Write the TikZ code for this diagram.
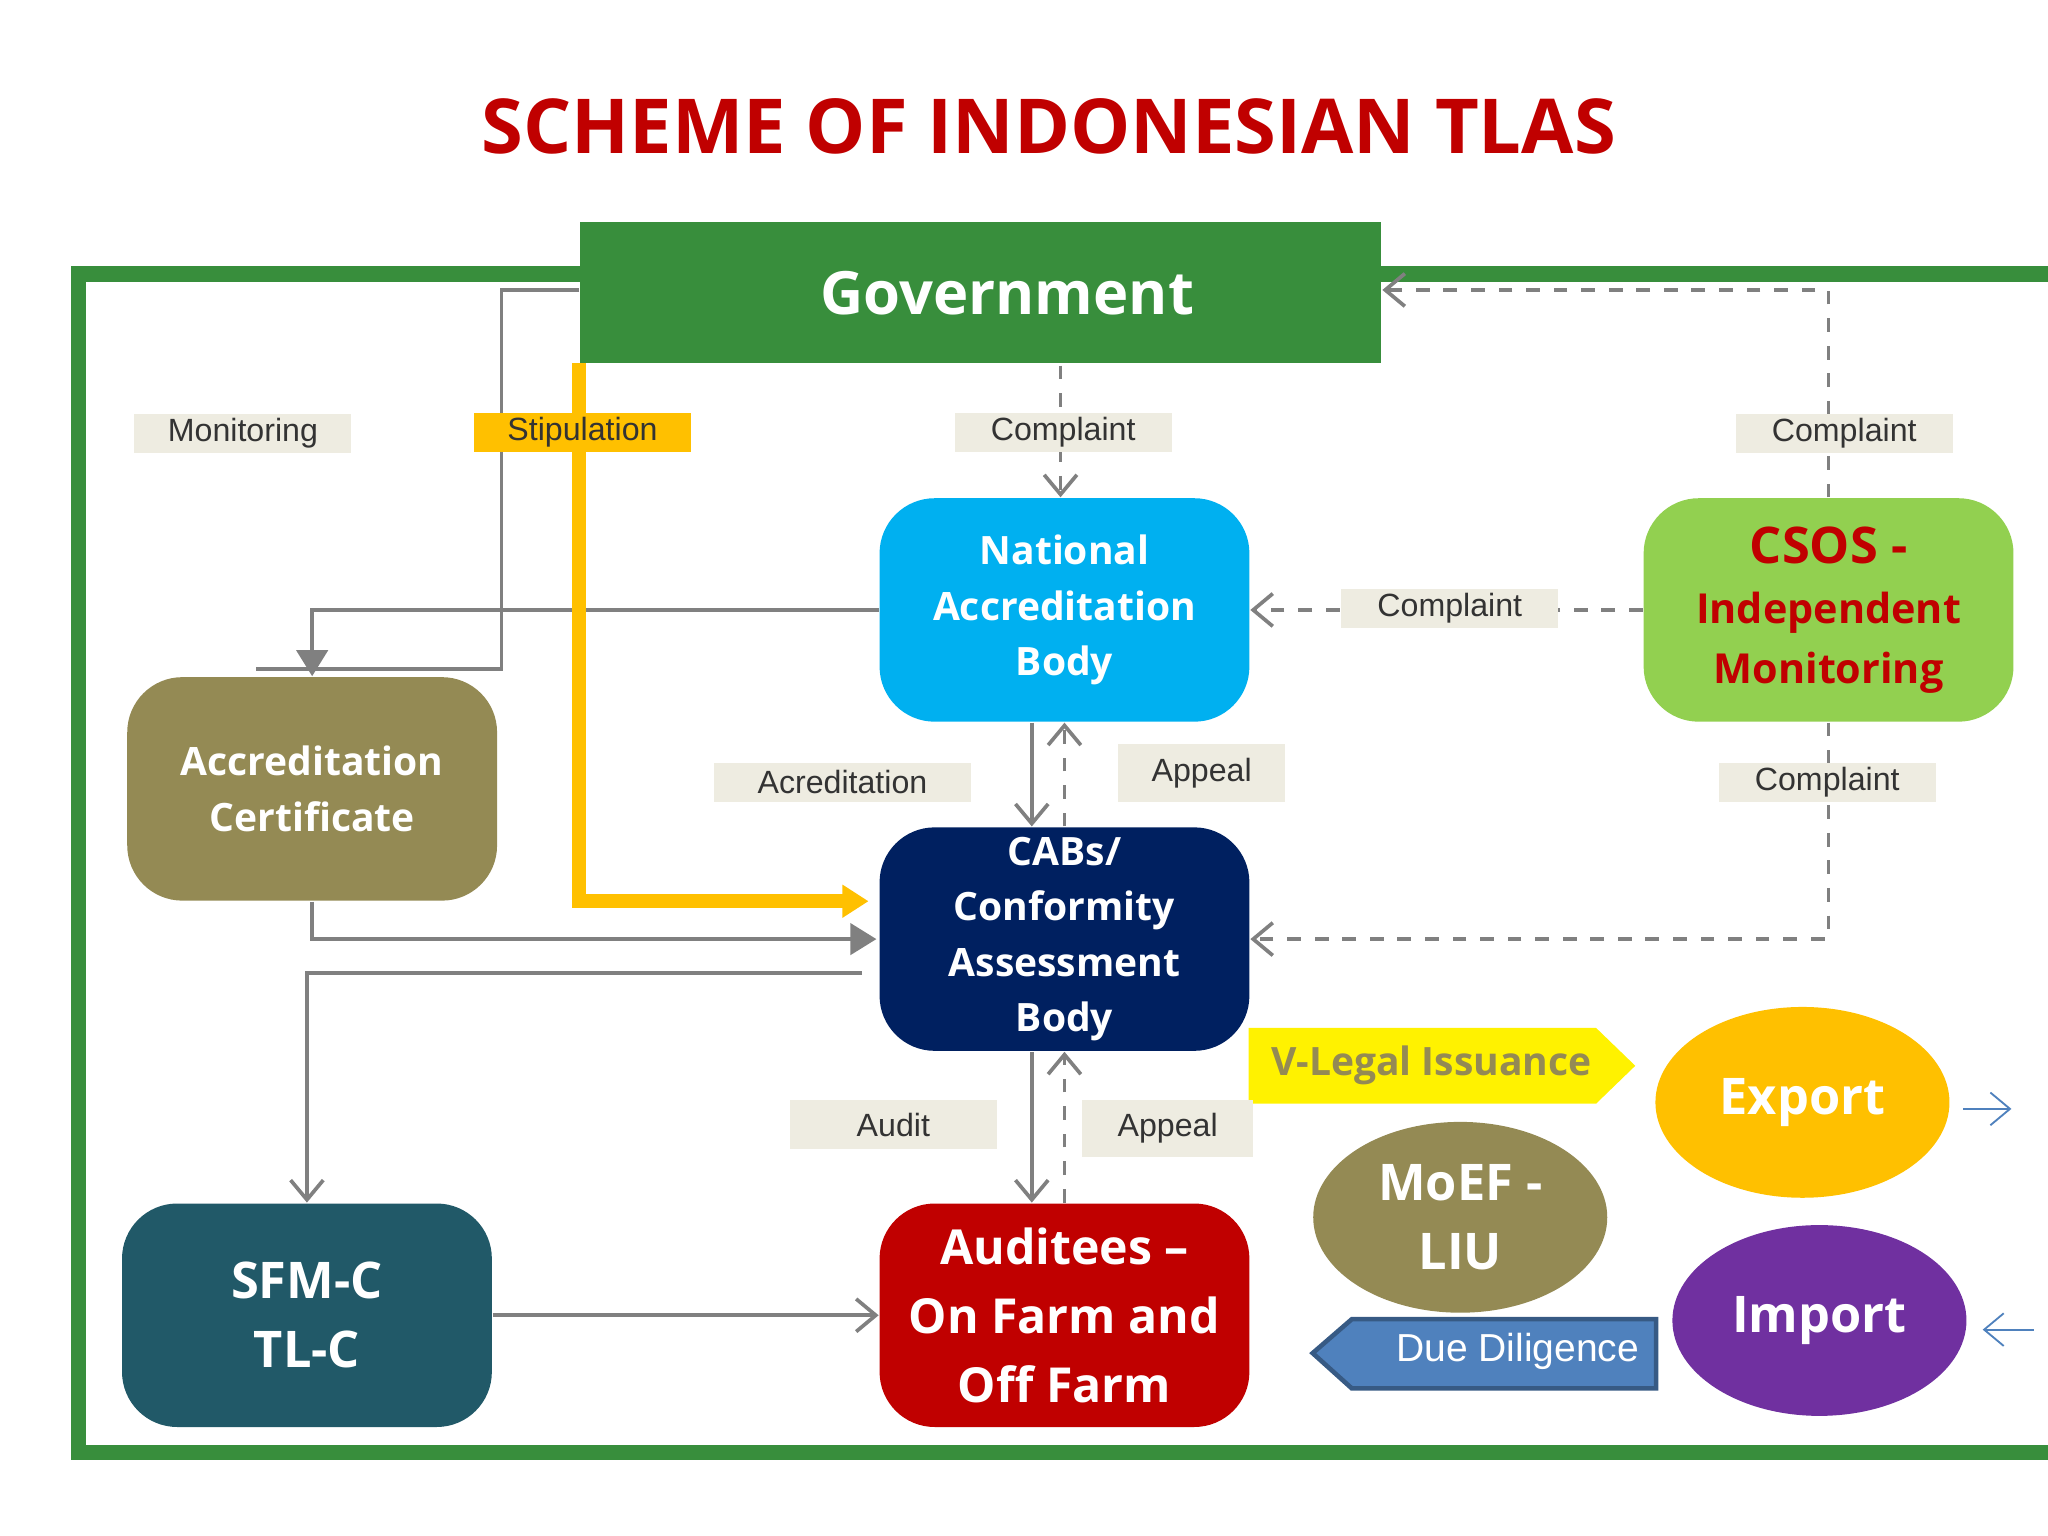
\documentclass[tikz,border=0pt]{standalone}
\usepackage{fontspec}
\setmainfont{Open Sans}
\newfontfamily\labelfont{Liberation Sans}
\usetikzlibrary{arrows.meta,positioning,shapes.geometric}
\definecolor{govgreen}{HTML}{388E3C}
\definecolor{nabblue}{HTML}{00B0F0}
\definecolor{csosgreen}{HTML}{92D050}
\definecolor{olive}{HTML}{948A54}
\definecolor{cabnavy}{HTML}{002060}
\definecolor{sfmteal}{HTML}{215968}
\definecolor{darkred}{HTML}{C00000}
\definecolor{amber}{HTML}{FFC000}
\definecolor{purple}{HTML}{7030A0}
\definecolor{ddblue}{HTML}{4F81BD}
\definecolor{tagbg}{HTML}{EEECE1}
\tikzset{%
    >={Latex[width=2mm,length=2mm]},
    box/.style = {
        rectangle, rounded corners=12pt, minimum width=2.83cm,
        minimum height=1.71cm, text centered, align=center, inner sep=1pt,
        text=white, font=\bfseries\fontsize{8.5}{12}\selectfont
    },
    blob/.style = {
        ellipse, minimum width=2.25cm, minimum height=1.46cm, inner sep=0pt,
        text=white, font=\bfseries\fontsize{11}{14}\selectfont, align=center
    },
    tag/.style = {
        fill=tagbg, text=black!80, font=\labelfont\fontsize{7}{8}\selectfont,
        minimum width=1.66cm, minimum height=0.3cm, inner sep=1pt
    },
    link/.style = {draw=gray, line width=0.8pt},
    dlink/.style = {link, dashed},
    open/.style = {-{Straight Barb[length=1.5mm,width=2.5mm]}},
    shut/.style = {-{Triangle[length=2mm,width=2.4mm]}},
}
\begin{document}
\begin{tikzpicture}[x=0.01cm, y=-0.01cm]
    \useasboundingbox (0,0) rectangle (1568,1176);
    % Frame and title
    \draw[govgreen, line width=0.12cm] (60,210) rectangle (1600,1112);
    \node (title) at (803,97) [text=darkred, font=\bfseries\fontsize{16.5}{20}\selectfont]
        {SCHEME OF INDONESIAN TLAS};

    % Nodes position
    \node (gov)   at (751,224)  [rectangle, fill=govgreen, minimum width=6.13cm,
                                 minimum height=1.08cm, text=white, text depth=0pt,
                                 font=\bfseries\fontsize{13}{16}\selectfont]
                                {\hspace{0.4cm}Government};
    \node (nab)   at (815,467)  [box, fill=nabblue] {National\\Accreditation\\Body};
    \node (csos)  at (1400,467) [box, fill=csosgreen, text=darkred,
                                 font=\bfseries\fontsize{9}{13}\selectfont]
                                {{\fontsize{11}{13}\selectfont CSOS -}\\Independent\\Monitoring};
    \node (cert)  at (239,604)  [box, fill=olive] {Accreditation\\Certificate};
    \node (cab)   at (815,719)  [box, fill=cabnavy] {CABs/\\Conformity\\Assessment\\Body};
    \node (sfm)   at (235,1007) [box, fill=sfmteal, font=\bfseries\fontsize{11}{15}\selectfont]
                                {SFM-C\\TL-C};
    \node (audit) at (815,1007) [box, fill=darkred, font=\bfseries\fontsize{10.5}{15}\selectfont]
                                {Auditees --\\On Farm and\\Off Farm};
    \node (export) at (1380,844) [blob, fill=amber] {Export};
    \node (import) at (1393,1011) [blob, fill=purple] {Import};
    \node (moef)  at (1118,932) [blob, fill=olive, font=\bfseries\fontsize{11}{15}\selectfont]
                                {MoEF -\\LIU};

    % Banner arrows
    \fill[yellow] (956,787) -- (1222,787) -- (1252,816) -- (1222,845) -- (956,845) -- cycle;
    \node (vlegal) at (1096,816) [text=olive, font=\bfseries\fontsize{8.5}{10}\selectfont]
        {V-Legal Issuance};
    \draw[fill=ddblue, draw=ddblue!70!black, line width=1pt]
        (1005,1036) -- (1035,1010) -- (1268,1010) -- (1268,1063) -- (1035,1063) -- cycle;
    \node (dd) at (1162,1035) [text=white, font=\labelfont\fontsize{8.5}{10}\selectfont]
        {Due Diligence};
    \coordinate (exA) at (1503,849);
    \coordinate (exB) at (1540,849);
    \coordinate (imA) at (1557,1018);
    \coordinate (imB) at (1518,1018);
    \draw[ddblue, open] (exA) -- (exB);
    \draw[ddblue, open] (imA) -- (imB);

    % Arrow specification
    \coordinate (monA) at (384,222);
    \coordinate (monB) at (196,512);
    \coordinate (cmpA) at (812,280);
    \draw[link] (gov.west |- monA) -- (monA) |- (monB);
    \draw[link, shut] (nab.west) -| (cert.north);
    \coordinate (stipA) at (443,278);
    \coordinate (stipB) at (665,690);
    \draw[amber, line width=3pt, shut] (stipA) |- (stipB);
    \coordinate (certB) at (671,719);
    \draw[link, shut] (cert.south) |- (certB);
    \coordinate (cabA) at (660,745);
    \draw[link, open] (cabA) -| (sfm.north);
    \draw[link, open] (sfm.east) -- (audit.west);
    \draw[dlink, open] (cmpA) -- (nab.north -| cmpA);
    \draw[dlink, open] (csos.north) |- (gov.east |- monA);
    \draw[dlink, open] (csos.west) -- (nab.east);
    \draw[dlink, open] (csos.south) |- (cab.east);
    \draw[link, open] ([xshift=-0.25cm]nab.south) -- ([xshift=-0.25cm]cab.north);
    \draw[dlink, open] (cab.north) -- (nab.south);
    \draw[link, open] ([xshift=-0.25cm]cab.south) -- ([xshift=-0.25cm]audit.north);
    \draw[dlink, open] (audit.north) -- (cab.south);

    % Labels
    \node (lmon)  at (186,332)  [tag] {Monitoring};
    \node (lstip) at (446,331)  [tag, fill=amber] {Stipulation};
    \node (lc1)   at (814,331)  [tag] {Complaint};
    \node (lc2)   at (1412,332) [tag] {Complaint};
    \node (lc3)   at (1110,466) [tag] {Complaint};
    \node (lacr)  at (645,599)  [tag, minimum width=1.96cm] {Acreditation};
    \node (lap1)  at (920,592)  [tag, minimum width=1.28cm, minimum height=0.44cm] {Appeal};
    \node (lc4)   at (1399,599) [tag] {Complaint};
    \node (laud)  at (684,861)  [tag, minimum width=1.58cm, minimum height=0.37cm] {Audit};
    \node (lap2)  at (894,864)  [tag, minimum width=1.31cm, minimum height=0.43cm] {Appeal};
\end{tikzpicture}
\end{document}
